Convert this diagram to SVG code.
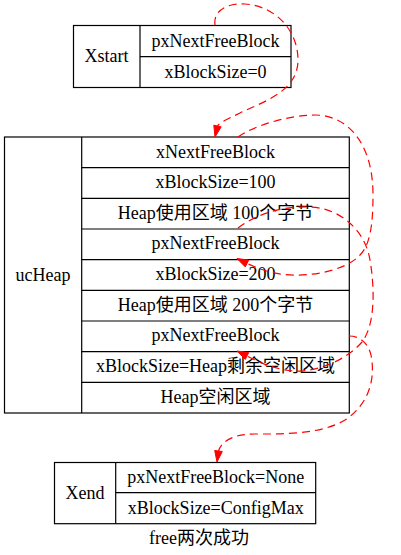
<svg xmlns="http://www.w3.org/2000/svg" width="401" height="555" viewBox="0 0 401 555">
<style>
.box{fill:none;stroke:#000;stroke-width:1.2}
.t{font-family:"Liberation Serif","Noto Sans CJK SC",serif;font-size:18px;fill:#000;text-anchor:middle}
.e{fill:none;stroke:#f00;stroke-width:1.2;stroke-dasharray:8,5}
.ah{fill:#f00;stroke:#f00;stroke-width:1}
</style>
<rect width="401" height="555" fill="#fff"/>
<g id="Xstart">
<rect class="box" x="73.5" y="25.5" width="217.5" height="62"/>
<line class="box" x1="140" y1="25.5" x2="140" y2="87.5"/>
<line class="box" x1="140" y1="56.7" x2="291" y2="56.7"/>
<text class="t" x="106.5" y="62">Xstart</text>
<text class="t" x="215.5" y="46.5">pxNextFreeBlock</text>
<text class="t" x="215.5" y="77.5">xBlockSize=0</text>
</g>
<g id="ucHeap">
<rect class="box" x="4.5" y="137" width="344.8" height="276"/>
<line class="box" x1="81.7" y1="137" x2="81.7" y2="413"/>
<line class="box" x1="81.7" y1="167.7" x2="349.3" y2="167.7"/>
<line class="box" x1="81.7" y1="198.3" x2="349.3" y2="198.3"/>
<line class="box" x1="81.7" y1="229" x2="349.3" y2="229"/>
<line class="box" x1="81.7" y1="259.7" x2="349.3" y2="259.7"/>
<line class="box" x1="81.7" y1="290.3" x2="349.3" y2="290.3"/>
<line class="box" x1="81.7" y1="321" x2="349.3" y2="321"/>
<line class="box" x1="81.7" y1="351.7" x2="349.3" y2="351.7"/>
<line class="box" x1="81.7" y1="382.3" x2="349.3" y2="382.3"/>
<text class="t" x="43" y="281">ucHeap</text>
<text class="t" x="215.5" y="157.5">xNextFreeBlock</text>
<text class="t" x="215.5" y="188">xBlockSize=100</text>
<text class="t" x="215.5" y="218.7">Heap使用区域 100个字节</text>
<text class="t" x="215.5" y="249.4">pxNextFreeBlock</text>
<text class="t" x="215.5" y="280">xBlockSize=200</text>
<text class="t" x="215.5" y="310.7">Heap使用区域 200个字节</text>
<text class="t" x="215.5" y="341.4">pxNextFreeBlock</text>
<text class="t" x="215.5" y="372">xBlockSize=Heap剩余空闲区域</text>
<text class="t" x="215.5" y="402.7">Heap空闲区域</text>
</g>
<g id="Xend">
<rect class="box" x="54.5" y="462.5" width="261.2" height="61.2"/>
<line class="box" x1="115.7" y1="462.5" x2="115.7" y2="523.7"/>
<line class="box" x1="115.7" y1="492.7" x2="315.7" y2="492.7"/>
<text class="t" x="85" y="499">Xend</text>
<text class="t" x="215.7" y="483">pxNextFreeBlock=None</text>
<text class="t" x="215.7" y="513.5">xBlockSize=ConfigMax</text>
</g>
<text class="t" x="199" y="544">free两次成功</text>
<g id="connectors">
<path class="e" d="M215,25 C213,10 228,3 245,4 C275,6 298,30 298,60 C298,92 262,102 240,113 C228,119 220,122 217.5,126"/>
<polygon class="ah" points="215,137 221.2,126.8 213.8,125.2"/>
<path class="e" d="M238,137 C255,125 290,115 315,115 C345,115 373,140 373,195 C373,225 370,245 360,255 C345,272 300,280 270,272 C262,270 255,267 247,263.5"/>
<polygon class="ah" points="237,258.5 245.3,266.9 248.7,260.1"/>
<path class="e" d="M238,228 C255,215 280,206 310,207 C340,208 365,230 370,260 C375,290 375,325 362,342 C345,362 310,375 285,370 C270,367 258,362 247,356"/>
<polygon class="ah" points="237,351 245.3,359.4 248.7,352.6"/>
<path class="e" d="M349,336 C360,336 368,343 371,355 C376,380 368,405 345,420 C320,435 280,434 255,434 C235,434 222,440 218.5,451"/>
<polygon class="ah" points="217,462 222.3,451.5 214.7,450.5"/>
</g>
</svg>
